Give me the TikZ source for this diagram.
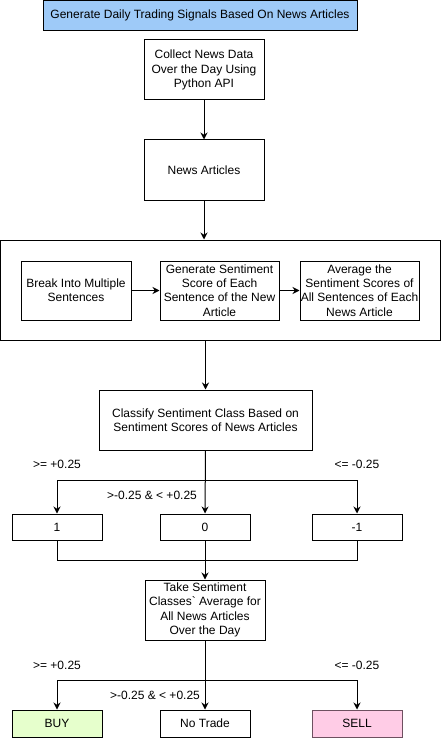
\documentclass[tikz,border=0pt]{standalone}
\usepackage{fontspec}
\setmainfont{Liberation Sans}
\usetikzlibrary{arrows.meta}
\definecolor{titleblue}{RGB}{158,202,248}
\definecolor{buygreen}{RGB}{230,255,204}
\definecolor{sellpink}{RGB}{255,204,230}
\definecolor{selledge}{RGB}{110,80,96}
\tikzset{
  box/.style={draw,line width=1pt,inner sep=0pt,align=center,font=\fontsize{12}{14.4}\selectfont},
  arr/.style={line width=1pt,-{Stealth[length=7pt,width=7pt]}},
  wire/.style={line width=1pt},
  lbl/.style={font=\fontsize{12}{14.4}\selectfont,inner sep=0pt}
}
\begin{document}
\begin{tikzpicture}[x=1pt,y=-1pt]
				\useasboundingbox (0,0) rectangle (442,738);
				\node[box,fill=titleblue,minimum width=314,minimum height=30] (title) at (200,15.5) {Generate Daily Trading Signals Based On News Articles};
				\node[box,minimum width=120,minimum height=60] (collect) at (204,70) {Collect News Data\\Over the Day Using\\Python API};
				\node[box,minimum width=120,minimum height=60] (news) at (204,170) {News Articles};
				\node[draw,line width=1pt,minimum width=440,minimum height=100] (group) at (220.5,290) {};
				\node[box,minimum width=110,minimum height=59] (split) at (76,290.5) {Break Into Multiple\\Sentences};
				\node[box,minimum width=119,minimum height=59] (score) at (219.5,290.5) {Generate Sentiment\\Score of Each\\Sentence of the New\\Article};
				\node[box,minimum width=119,minimum height=59] (avg) at (359.5,290.5) {Average the\\Sentiment Scores of\\All Sentences of Each\\News Article};
				\node[box,minimum width=213,minimum height=60] (classify) at (205.5,420) {Classify Sentiment Class Based on\\Sentiment Scores of News Articles};
				\node[box,minimum width=90,minimum height=26] (one) at (57,527) {1};
				\node[box,minimum width=90,minimum height=26] (zero) at (205,527) {0};
				\node[box,minimum width=90,minimum height=26] (minus) at (357,527) {-1};
				\node[box,minimum width=120,minimum height=60] (take) at (205,610) {Take Sentiment\\Classes\textasciigrave{} Average for\\All News Articles\\Over the Day};
				\node[box,fill=buygreen,minimum width=90,minimum height=27] (buy) at (57,723.5) {BUY};
				\node[box,minimum width=90,minimum height=27] (notrade) at (205,723.5) {No Trade};
				\node[box,draw=selledge,fill=sellpink,minimum width=90,minimum height=27] (sell) at (357,723.5) {SELL};
				\node[lbl] (up1) at (57,464) {>= +0.25};
				\node[lbl] (down1) at (357,464) {<= -0.25};
				\node[lbl] (mid1) at (152,495) {>-0.25 \& < +0.25};
				\node[lbl] (up2) at (57,665) {>= +0.25};
				\node[lbl] (down2) at (357,665) {<= -0.25};
				\node[lbl] (mid2) at (155,695) {>-0.25 \& < +0.25};
				\coordinate (fork1) at (205,480);
				\coordinate (join) at (205,560);
				\coordinate (fork2) at (205,680);
				\draw[arr] (collect) -- (news);
				\draw[arr] (news.south) -- (news.south |- group.north);
				\draw[arr] (split) -- (score);
				\draw[arr] (score) -- (avg);
				\draw[arr] (classify.north |- group.south) -- (classify.north);
				\draw[arr] (classify.south) -- (zero.north);
				\draw[arr] (fork1) -| (one.north);
				\draw[arr] (fork1) -| (minus.north);
				\draw[wire] (one.south) |- (join);
				\draw[wire] (minus.south) |- (join);
				\draw[arr] (zero.south) -- (take.north);
				\draw[arr] (take.south) -- (notrade.north);
				\draw[arr] (fork2) -| (buy.north);
				\draw[arr] (fork2) -| (sell.north);
			\end{tikzpicture}
\end{document}
